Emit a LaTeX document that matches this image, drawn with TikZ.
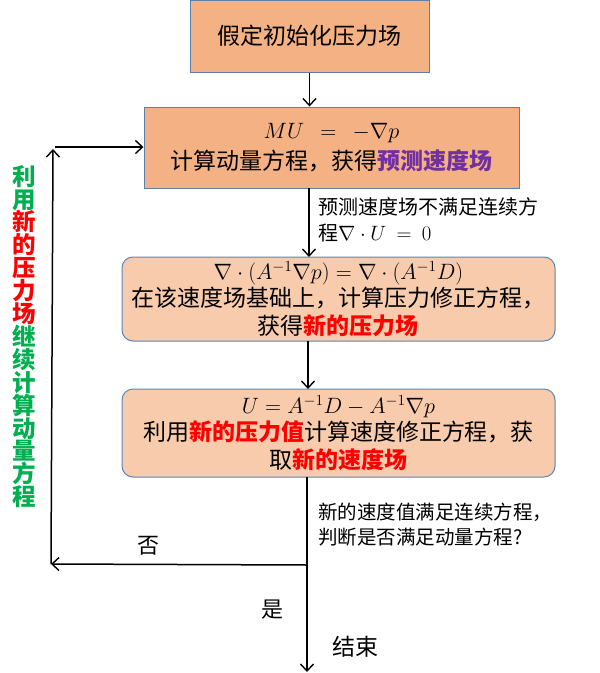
\documentclass[tikz,border=0pt]{standalone}
\usepackage{fontspec}
\usepackage{graphicx}
\setmainfont{Noto Sans CJK SC}
\usetikzlibrary{arrows.meta}
\definecolor{boxA}{HTML}{F4B183}
\definecolor{boxB}{HTML}{F8CBAD}
\definecolor{edgeA}{HTML}{5B7FA8}
\definecolor{edgeB}{HTML}{5B86B8}
\definecolor{purp}{HTML}{7030A0}
\definecolor{redt}{HTML}{FF0000}
\definecolor{greent}{HTML}{00B050}
\newcommand\gch[1]{\textcolor{greent}{#1}}
\newcommand\rch[1]{\textcolor{redt}{#1}}
\newcommand\eqsz[1]{{\fontsize{21}{27.5}\selectfont\scalebox{1.07}{$#1$}}}
\tikzset{
  sqbox/.style={draw=edgeA, fill=boxA, line width=1pt, inner sep=0pt, align=center},
  rdbox/.style={draw=edgeB, fill=boxB, line width=1pt, rounded corners=11pt, inner sep=0pt, align=center},
  conn/.style={line width=1.5pt, -{Straight Barb[length=7pt,width=13pt,line width=1.4pt]}},
  lbl/.style={inner sep=0pt, align=left, anchor=west},
}
\begin{document}
\begin{tikzpicture}[x=1pt,y=-1pt]
\useasboundingbox (0,0) rectangle (600,673);
\node[sqbox, minimum width=239pt, minimum height=72pt, font=\fontsize{23}{28}\selectfont] (b1) at (309.5,36) {假定初始化压力场};
\node[sqbox, minimum width=375pt, minimum height=81pt, font=\fontsize{23}{31}\selectfont] (b2) at (331.5,147.5)
  {\eqsz{MU\ \ =\ \ -\nabla p}\\计算动量方程，获得\textcolor{purp}{\bfseries 预测速度场}};
\node[rdbox, minimum width=433pt, minimum height=84pt, font=\fontsize{23}{27.5}\selectfont] (b3) at (338.5,299)
  {\eqsz{\nabla\cdot(A^{-1}\nabla p)=\nabla\cdot(A^{-1}D)}\\在该速度场基础上，计算压力修正方程，\\获得\textcolor{redt}{\bfseries 新的压力场}};
\node[rdbox, minimum width=433pt, minimum height=88pt, font=\fontsize{23}{27.5}\selectfont] (b4) at (338.5,433)
  {\eqsz{U=A^{-1}D-A^{-1}\nabla p}\\利用\textcolor{redt}{\bfseries 新的压力值}计算速度修正方程，获\\取\textcolor{redt}{\bfseries 新的速度场}};
\node[lbl, font=\fontsize{20}{26}\selectfont] (l1) at (318,220) {预测速度场不满足连续方\\程$\nabla\cdot U\ =\ 0$};
\node[lbl, font=\fontsize{19.5}{25}\selectfont] (l2) at (318,524.5) {新的速度值满足连续方程，\\判断是否满足动量方程?};
\node[inner sep=0pt, align=center, font=\fontsize{23.5}{22.9}\selectfont\bfseries] (side) at (24,336.5)
  {\gch{利}\\\gch{用}\\\rch{新}\\\rch{的}\\\rch{压}\\\rch{力}\\\rch{场}\\\gch{继}\\\gch{续}\\\gch{计}\\\gch{算}\\\gch{动}\\\gch{量}\\\gch{方}\\\gch{程}};
\node[inner sep=0pt, font=\fontsize{22}{26}\selectfont] (no) at (148,546) {否};
\node[inner sep=0pt, font=\fontsize{22}{26}\selectfont] (yes) at (272,610) {是};
\node[inner sep=0pt, font=\fontsize{23}{26}\selectfont] (end) at (355,647) {结束};
\coordinate (j) at (307,565);
\coordinate (bl) at (51,564);
\coordinate (tl) at (53,149);
\coordinate (tr) at (55,147);
\coordinate (bot) at (307,672);
\draw[conn] (b1.south) -- (b1.south |- b2.north);
\draw[conn] (309,188) -- (309,257);
\draw[conn] (308,341) -- (308,389);
\draw[conn] (307,477) -- (bot);
\draw[conn] (j) -- (bl);
\draw[conn] (bl) -- (tl);
\draw[conn] (tr) -- (tr -| b2.west);
\end{tikzpicture}
\end{document}
